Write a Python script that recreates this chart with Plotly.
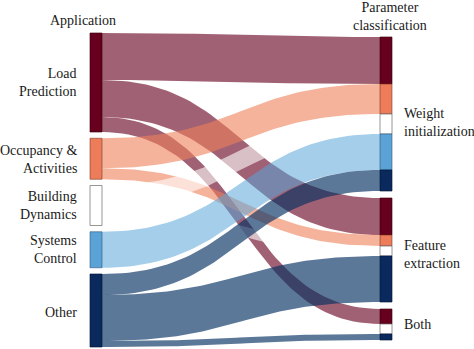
import numpy as np
import plotly.graph_objects as go

# ---------------- data ----------------
sources = ["Load<br>Prediction", "Occupancy &<br>Activities", "Building<br>Dynamics",
           "Systems<br>Control", "Other"]
targets = ["Weight<br>initialization", "Feature<br>extraction", "Both"]
flow_weight_init = [47, 30, 20, 36, 21]
flow_feature_ext = [37, 11, 10, 0, 46]
flow_both = [15, 0, 10, 0, 6]
left_title = "Application"
right_title = "Parameter<br>classification"

# ---------------- style ----------------
node_colors = ["#67001f", "#ec7c5a", "#ffffff", "#5ba3d6", "#0a2a5e"]
link_colors = ["rgba(103,0,31,0.62)", "rgba(239,128,90,0.6)", "rgba(255,255,255,0.6)",
               "rgba(90,165,216,0.55)", "rgba(5,48,97,0.65)"]
node_line = ["rgba(60,0,10,0.8)", "rgba(120,50,30,0.7)", "rgba(110,110,110,0.9)",
             "rgba(40,80,120,0.7)", "rgba(0,20,50,0.8)"]
FONT = "'Liberation Serif', 'Times New Roman', Times, serif"
W, H = 474, 349
X_LEFT, X_RIGHT, NODE_W = 90, 380, 12
Y_TOP_L, Y_TOP_R = 33, 37
GAP_L, GAP_R = 6.25, 7
SCALE = 1.0
right_label_dy = [8, 4, 0]
left_label_dy = [0, 1, 0, 0, 2]

flows = np.array([flow_weight_init, flow_feature_ext, flow_both]).T  # [source, target]
ns, nt = flows.shape

# node positions
left_h = flows.sum(axis=1) * SCALE
right_h = flows.sum(axis=0) * SCALE
left_y = Y_TOP_L + np.concatenate([[0], np.cumsum(left_h[:-1] + GAP_L)])
right_y = Y_TOP_R + np.concatenate([[0], np.cumsum(right_h[:-1] + GAP_R)])

# link offsets
left_off = np.zeros((ns, nt))
right_off = np.zeros((ns, nt))
for s in range(ns):
    acc = left_y[s]
    for t in range(nt):
        left_off[s, t] = acc
        acc += flows[s, t] * SCALE
for t in range(nt):
    acc = right_y[t]
    for s in range(ns):
        right_off[s, t] = acc
        acc += flows[s, t] * SCALE

fig = go.Figure()
x0 = X_LEFT + NODE_W
x1 = X_RIGHT
xm = (x0 + x1) / 2
tt = np.linspace(0, 1, 60)


def bez(ya, yb):
    bx = (1 - tt) ** 3 * x0 + 3 * (1 - tt) ** 2 * tt * xm + 3 * (1 - tt) * tt ** 2 * xm + tt ** 3 * x1
    by = (1 - tt) ** 3 * ya + 3 * (1 - tt) ** 2 * tt * ya + 3 * (1 - tt) * tt ** 2 * yb + tt ** 3 * yb
    return bx, by


for s in range(ns):
    for t in range(nt):
        v = flows[s, t] * SCALE
        if v <= 0:
            continue
        ux, uy = bez(left_off[s, t], right_off[s, t])
        lx, ly = bez(left_off[s, t] + v, right_off[s, t] + v)
        xs = np.concatenate([ux, lx[::-1], ux[:1]])
        ys = np.concatenate([uy, ly[::-1], uy[:1]])
        fig.add_trace(go.Scatter(x=xs, y=ys, mode="lines", fill="toself",
                                 fillcolor=link_colors[s], line=dict(width=0),
                                 hoverinfo="skip", showlegend=False))


def rect(xa, ya, w, h, fc, lc):
    fig.add_trace(go.Scatter(x=[xa, xa + w, xa + w, xa, xa], y=[ya, ya, ya + h, ya + h, ya],
                             mode="lines", fill="toself", fillcolor=fc,
                             line=dict(width=0.8, color=lc), hoverinfo="skip", showlegend=False))


# left nodes
for s in range(ns):
    rect(X_LEFT, left_y[s], NODE_W, left_h[s], node_colors[s], node_line[s])
# right nodes split into source-coloured segments
for t in range(nt):
    for s in range(ns):
        v = flows[s, t] * SCALE
        if v <= 0:
            continue
        rect(X_RIGHT, right_off[s, t], NODE_W, v, node_colors[s], node_line[s])

annots = []
for s in range(ns):
    annots.append(dict(x=X_LEFT - 11, y=left_y[s] + left_h[s] / 2 + left_label_dy[s],
                       text=sources[s], xanchor="right", yanchor="middle", align="right",
                       showarrow=False))
for t in range(nt):
    annots.append(dict(x=X_RIGHT + NODE_W + 10, y=right_y[t] + right_h[t] / 2 + right_label_dy[t],
                       text=targets[t], xanchor="left", yanchor="middle", align="left",
                       showarrow=False))
annots.append(dict(x=83, y=20, text=left_title, xanchor="center", yanchor="middle",
                   showarrow=False))
annots.append(dict(x=390, y=16, text=right_title, xanchor="center", yanchor="middle",
                   showarrow=False))
for a in annots:
    a["xref"] = "x"
    a["yref"] = "y"
    a["font"] = dict(family=FONT, size=14, color="#1a1a1a")

fig.update_layout(
    width=W, height=H, margin=dict(l=0, r=0, t=0, b=0),
    paper_bgcolor="white", plot_bgcolor="white",
    xaxis=dict(range=[0, W], visible=False, fixedrange=True),
    yaxis=dict(range=[H, 0], visible=False, fixedrange=True),
    annotations=annots, showlegend=False,
)
fig.write_html("out.html")
